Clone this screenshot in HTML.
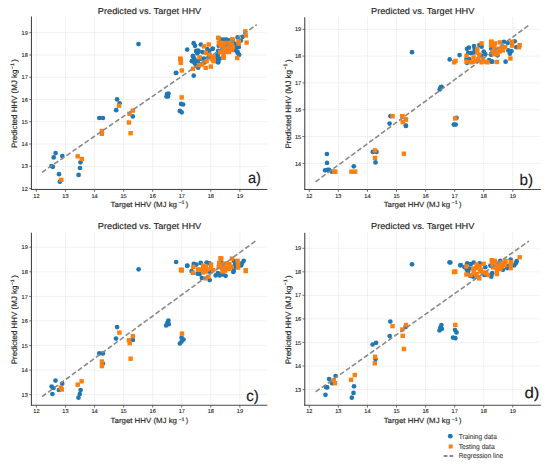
<!DOCTYPE html>
<html><head><meta charset="utf-8"><style>
html,body{margin:0;padding:0;background:#fff;}
svg{display:block;}
text{font-family:"Liberation Sans",sans-serif;fill:#262626;stroke:#262626;stroke-width:0.15px;text-rendering:geometricPrecision;}
.tl{stroke-width:0.12px;}
circle{fill:#1f77b4;}
rect{fill:#ff7f0e;}
.gr{stroke:#c8c8c8;stroke-width:0.6;stroke-dasharray:0.8,1.2;}
.sp{stroke:#484848;stroke-width:1.1;}
.tk{stroke:#484848;stroke-width:0.8;}
.tl{font-size:5.6px;}
.al{font-size:7.4px;}
.sup{font-size:5px;}
.yl{font-size:7.9px;}
.ti{font-size:8.7px;}
.pl{font-size:15.5px;fill:#1a1a1a;}
.rg{stroke:#8a8a8a;stroke-width:1.6;stroke-dasharray:5.0,2.4;}
.lg{font-size:7.2px;fill:#4a4a4a;stroke:#4a4a4a;}
</style></head><body>
<svg width="550" height="465" viewBox="0 0 550 465">
<line x1="36.40" y1="16.5" x2="36.40" y2="189.5" class="gr"/>
<line x1="65.47" y1="16.5" x2="65.47" y2="189.5" class="gr"/>
<line x1="94.54" y1="16.5" x2="94.54" y2="189.5" class="gr"/>
<line x1="123.61" y1="16.5" x2="123.61" y2="189.5" class="gr"/>
<line x1="152.68" y1="16.5" x2="152.68" y2="189.5" class="gr"/>
<line x1="181.75" y1="16.5" x2="181.75" y2="189.5" class="gr"/>
<line x1="210.82" y1="16.5" x2="210.82" y2="189.5" class="gr"/>
<line x1="239.89" y1="16.5" x2="239.89" y2="189.5" class="gr"/>
<line x1="31.45" y1="188.50" x2="267.4" y2="188.50" class="gr"/>
<line x1="31.45" y1="166.30" x2="267.4" y2="166.30" class="gr"/>
<line x1="31.45" y1="144.00" x2="267.4" y2="144.00" class="gr"/>
<line x1="31.45" y1="121.70" x2="267.4" y2="121.70" class="gr"/>
<line x1="31.45" y1="99.50" x2="267.4" y2="99.50" class="gr"/>
<line x1="31.45" y1="77.20" x2="267.4" y2="77.20" class="gr"/>
<line x1="31.45" y1="55.00" x2="267.4" y2="55.00" class="gr"/>
<line x1="31.45" y1="32.70" x2="267.4" y2="32.70" class="gr"/>
<circle cx="55.6" cy="153.1" r="2.35"/>
<circle cx="53.7" cy="157.4" r="2.35"/>
<circle cx="62.3" cy="156.1" r="2.35"/>
<circle cx="51.5" cy="166.0" r="2.35"/>
<circle cx="52.8" cy="166.8" r="2.35"/>
<circle cx="59.0" cy="174.2" r="2.35"/>
<circle cx="59.9" cy="181.7" r="2.35"/>
<circle cx="80.5" cy="162.3" r="2.35"/>
<circle cx="80.0" cy="168.0" r="2.35"/>
<circle cx="78.6" cy="174.9" r="2.35"/>
<circle cx="117.1" cy="99.4" r="2.35"/>
<circle cx="119.6" cy="103.3" r="2.35"/>
<circle cx="116.2" cy="110.2" r="2.35"/>
<circle cx="99.3" cy="118.0" r="2.35"/>
<circle cx="102.9" cy="118.0" r="2.35"/>
<circle cx="132.8" cy="116.4" r="2.35"/>
<circle cx="138.5" cy="44.1" r="2.35"/>
<circle cx="175.9" cy="73.0" r="2.35"/>
<circle cx="167.0" cy="94.0" r="2.35"/>
<circle cx="168.5" cy="93.5" r="2.35"/>
<circle cx="166.5" cy="96.5" r="2.35"/>
<circle cx="168.0" cy="96.5" r="2.35"/>
<circle cx="181.1" cy="103.9" r="2.35"/>
<circle cx="183.1" cy="104.5" r="2.35"/>
<circle cx="179.8" cy="110.9" r="2.35"/>
<circle cx="181.7" cy="112.3" r="2.35"/>
<circle cx="187.2" cy="49.6" r="2.35"/>
<circle cx="193.7" cy="43.2" r="2.35"/>
<circle cx="195.0" cy="45.8" r="2.35"/>
<circle cx="200.8" cy="44.5" r="2.35"/>
<circle cx="196.3" cy="50.9" r="2.35"/>
<circle cx="198.8" cy="51.6" r="2.35"/>
<circle cx="193.0" cy="56.7" r="2.35"/>
<circle cx="194.3" cy="58.7" r="2.35"/>
<circle cx="191.8" cy="61.2" r="2.35"/>
<circle cx="194.3" cy="62.5" r="2.35"/>
<circle cx="197.6" cy="61.2" r="2.35"/>
<circle cx="200.8" cy="58.7" r="2.35"/>
<circle cx="202.7" cy="52.2" r="2.35"/>
<circle cx="207.2" cy="49.0" r="2.35"/>
<circle cx="209.1" cy="50.9" r="2.35"/>
<circle cx="212.4" cy="49.0" r="2.35"/>
<circle cx="204.0" cy="58.7" r="2.35"/>
<circle cx="204.6" cy="62.5" r="2.35"/>
<circle cx="216.2" cy="60.0" r="2.35"/>
<circle cx="218.2" cy="62.5" r="2.35"/>
<circle cx="217.5" cy="54.8" r="2.35"/>
<circle cx="220.7" cy="39.3" r="2.35"/>
<circle cx="218.8" cy="45.8" r="2.35"/>
<circle cx="198.2" cy="67.7" r="2.35"/>
<circle cx="193.7" cy="75.7" r="2.35"/>
<circle cx="176.3" cy="72.8" r="2.35"/>
<circle cx="208.5" cy="57.4" r="2.35"/>
<circle cx="196.8" cy="66.0" r="2.35"/>
<circle cx="195.3" cy="64.0" r="2.35"/>
<circle cx="200.2" cy="64.0" r="2.35"/>
<circle cx="196.3" cy="51.0" r="2.35"/>
<circle cx="198.2" cy="50.5" r="2.35"/>
<circle cx="197.3" cy="53.4" r="2.35"/>
<circle cx="192.9" cy="55.8" r="2.35"/>
<circle cx="237.6" cy="37.4" r="2.35"/>
<circle cx="242.7" cy="36.8" r="2.35"/>
<circle cx="240.8" cy="40.6" r="2.35"/>
<circle cx="236.3" cy="45.8" r="2.35"/>
<circle cx="238.8" cy="47.1" r="2.35"/>
<circle cx="234.3" cy="47.7" r="2.35"/>
<circle cx="235.6" cy="50.3" r="2.35"/>
<circle cx="237.6" cy="52.2" r="2.35"/>
<circle cx="238.8" cy="54.5" r="2.35"/>
<circle cx="217.6" cy="55.4" r="2.35"/>
<circle cx="219.5" cy="58.7" r="2.35"/>
<circle cx="216.3" cy="61.2" r="2.35"/>
<circle cx="226.6" cy="39.6" r="2.35"/>
<circle cx="229.2" cy="40.4" r="2.35"/>
<circle cx="224.0" cy="39.6" r="2.35"/>
<circle cx="233.0" cy="41.9" r="2.35"/>
<circle cx="235.3" cy="44.0" r="2.35"/>
<circle cx="236.8" cy="47.0" r="2.35"/>
<circle cx="235.3" cy="49.4" r="2.35"/>
<circle cx="237.6" cy="52.5" r="2.35"/>
<circle cx="239.1" cy="54.8" r="2.35"/>
<circle cx="212.8" cy="48.6" r="2.35"/>
<circle cx="216.5" cy="57.0" r="2.35"/>
<circle cx="218.5" cy="60.5" r="2.35"/>
<circle cx="218.2" cy="50.9" r="2.35"/>
<rect x="59.1" y="177.6" width="4.4" height="4.4"/>
<rect x="75.5" y="154.1" width="4.4" height="4.4"/>
<rect x="79.6" y="156.8" width="4.4" height="4.4"/>
<rect x="116.8" y="103.5" width="4.4" height="4.4"/>
<rect x="99.7" y="128.8" width="4.4" height="4.4"/>
<rect x="99.7" y="131.6" width="4.4" height="4.4"/>
<rect x="130.7" y="108.4" width="4.4" height="4.4"/>
<rect x="127.4" y="111.6" width="4.4" height="4.4"/>
<rect x="126.7" y="120.3" width="4.4" height="4.4"/>
<rect x="128.4" y="131.0" width="4.4" height="4.4"/>
<rect x="178.5" y="56.8" width="4.4" height="4.4"/>
<rect x="178.7" y="59.6" width="4.4" height="4.4"/>
<rect x="179.5" y="95.2" width="4.4" height="4.4"/>
<rect x="178.0" y="56.5" width="4.4" height="4.4"/>
<rect x="178.6" y="60.6" width="4.4" height="4.4"/>
<rect x="179.6" y="68.3" width="4.4" height="4.4"/>
<rect x="201.8" y="44.2" width="4.4" height="4.4"/>
<rect x="206.6" y="42.3" width="4.4" height="4.4"/>
<rect x="197.3" y="55.2" width="4.4" height="4.4"/>
<rect x="203.7" y="50.7" width="4.4" height="4.4"/>
<rect x="207.6" y="52.6" width="4.4" height="4.4"/>
<rect x="204.4" y="59.0" width="4.4" height="4.4"/>
<rect x="209.5" y="56.5" width="4.4" height="4.4"/>
<rect x="211.5" y="59.0" width="4.4" height="4.4"/>
<rect x="199.9" y="62.3" width="4.4" height="4.4"/>
<rect x="196.6" y="62.9" width="4.4" height="4.4"/>
<rect x="190.8" y="66.5" width="4.4" height="4.4"/>
<rect x="203.5" y="65.7" width="4.4" height="4.4"/>
<rect x="208.6" y="64.4" width="4.4" height="4.4"/>
<rect x="216.1" y="35.7" width="4.4" height="4.4"/>
<rect x="217.3" y="40.4" width="4.4" height="4.4"/>
<rect x="219.2" y="43.6" width="4.4" height="4.4"/>
<rect x="221.1" y="55.2" width="4.4" height="4.4"/>
<rect x="221.1" y="48.7" width="4.4" height="4.4"/>
<rect x="243.1" y="29.1" width="4.4" height="4.4"/>
<rect x="243.7" y="33.3" width="4.4" height="4.4"/>
<rect x="244.4" y="40.4" width="4.4" height="4.4"/>
<rect x="236.6" y="39.7" width="4.4" height="4.4"/>
<rect x="230.2" y="37.1" width="4.4" height="4.4"/>
<rect x="216.0" y="35.8" width="4.4" height="4.4"/>
<rect x="216.7" y="41.0" width="4.4" height="4.4"/>
<rect x="218.6" y="43.6" width="4.4" height="4.4"/>
<rect x="220.5" y="41.6" width="4.4" height="4.4"/>
<rect x="223.1" y="44.2" width="4.4" height="4.4"/>
<rect x="225.7" y="43.6" width="4.4" height="4.4"/>
<rect x="228.3" y="44.9" width="4.4" height="4.4"/>
<rect x="219.9" y="46.8" width="4.4" height="4.4"/>
<rect x="222.5" y="48.1" width="4.4" height="4.4"/>
<rect x="225.7" y="46.8" width="4.4" height="4.4"/>
<rect x="218.0" y="50.0" width="4.4" height="4.4"/>
<rect x="221.2" y="50.7" width="4.4" height="4.4"/>
<rect x="221.6" y="55.2" width="4.4" height="4.4"/>
<rect x="235.0" y="55.8" width="4.4" height="4.4"/>
<rect x="229.6" y="42.3" width="4.4" height="4.4"/>
<rect x="221.8" y="40.8" width="4.4" height="4.4"/>
<rect x="224.8" y="40.8" width="4.4" height="4.4"/>
<rect x="227.8" y="40.8" width="4.4" height="4.4"/>
<rect x="223.8" y="49.8" width="4.4" height="4.4"/>
<rect x="226.8" y="49.8" width="4.4" height="4.4"/>
<rect x="229.8" y="47.8" width="4.4" height="4.4"/>
<rect x="226.8" y="44.8" width="4.4" height="4.4"/>
<rect x="230.8" y="44.8" width="4.4" height="4.4"/>
<rect x="230.1" y="37.5" width="4.4" height="4.4"/>
<rect x="236.5" y="39.4" width="4.4" height="4.4"/>
<rect x="236.5" y="41.4" width="4.4" height="4.4"/>
<rect x="221.4" y="55.3" width="4.4" height="4.4"/>
<rect x="211.3" y="54.8" width="4.4" height="4.4"/>
<rect x="211.3" y="58.3" width="4.4" height="4.4"/>
<line x1="42" y1="172.4" x2="256.7" y2="24.7" class="rg"/>
<line x1="31.45" y1="16.5" x2="31.45" y2="190.05" class="sp"/>
<line x1="30.9" y1="189.5" x2="267.4" y2="189.5" class="sp"/>
<line x1="36.40" y1="189.5" x2="36.40" y2="191.8" class="tk"/>
<text x="36.40" y="197.6" class="tl" text-anchor="middle">12</text>
<line x1="65.47" y1="189.5" x2="65.47" y2="191.8" class="tk"/>
<text x="65.47" y="197.6" class="tl" text-anchor="middle">13</text>
<line x1="94.54" y1="189.5" x2="94.54" y2="191.8" class="tk"/>
<text x="94.54" y="197.6" class="tl" text-anchor="middle">14</text>
<line x1="123.61" y1="189.5" x2="123.61" y2="191.8" class="tk"/>
<text x="123.61" y="197.6" class="tl" text-anchor="middle">15</text>
<line x1="152.68" y1="189.5" x2="152.68" y2="191.8" class="tk"/>
<text x="152.68" y="197.6" class="tl" text-anchor="middle">16</text>
<line x1="181.75" y1="189.5" x2="181.75" y2="191.8" class="tk"/>
<text x="181.75" y="197.6" class="tl" text-anchor="middle">17</text>
<line x1="210.82" y1="189.5" x2="210.82" y2="191.8" class="tk"/>
<text x="210.82" y="197.6" class="tl" text-anchor="middle">18</text>
<line x1="239.89" y1="189.5" x2="239.89" y2="191.8" class="tk"/>
<text x="239.89" y="197.6" class="tl" text-anchor="middle">19</text>
<line x1="29.25" y1="188.50" x2="31.45" y2="188.50" class="tk"/>
<text x="27.85" y="190.6" class="tl" text-anchor="end">12</text>
<line x1="29.25" y1="166.30" x2="31.45" y2="166.30" class="tk"/>
<text x="27.85" y="168.4" class="tl" text-anchor="end">13</text>
<line x1="29.25" y1="144.00" x2="31.45" y2="144.00" class="tk"/>
<text x="27.85" y="146.1" class="tl" text-anchor="end">14</text>
<line x1="29.25" y1="121.70" x2="31.45" y2="121.70" class="tk"/>
<text x="27.85" y="123.8" class="tl" text-anchor="end">15</text>
<line x1="29.25" y1="99.50" x2="31.45" y2="99.50" class="tk"/>
<text x="27.85" y="101.6" class="tl" text-anchor="end">16</text>
<line x1="29.25" y1="77.20" x2="31.45" y2="77.20" class="tk"/>
<text x="27.85" y="79.3" class="tl" text-anchor="end">17</text>
<line x1="29.25" y1="55.00" x2="31.45" y2="55.00" class="tk"/>
<text x="27.85" y="57.1" class="tl" text-anchor="end">18</text>
<line x1="29.25" y1="32.70" x2="31.45" y2="32.70" class="tk"/>
<text x="27.85" y="34.8" class="tl" text-anchor="end">19</text>
<text x="97.8" y="13.6" class="ti" textLength="103.4" lengthAdjust="spacingAndGlyphs">Predicted vs. Target HHV</text>
<text x="110.6" y="207.0" class="al" textLength="66.4" lengthAdjust="spacingAndGlyphs">Target HHV (MJ kg</text>
<text x="178.5" y="204.4" class="sup" textLength="6.0" lengthAdjust="spacingAndGlyphs">−1</text>
<text x="185.8" y="207.0" class="al">)</text>
<g transform="translate(17.2,148.1) rotate(-90)"><text x="0" y="0" class="al yl" textLength="78.5" lengthAdjust="spacingAndGlyphs">Predicted HHV (MJ kg</text><text x="78.9" y="-3.4" class="sup" textLength="6.1" lengthAdjust="spacingAndGlyphs">−1</text><text x="86.4" y="0" class="al yl">)</text></g>
<text x="247.9" y="182.5" class="pl" textLength="13.0" lengthAdjust="spacingAndGlyphs">a)</text>
<line x1="309.30" y1="17.3" x2="309.30" y2="189.5" class="gr"/>
<line x1="338.37" y1="17.3" x2="338.37" y2="189.5" class="gr"/>
<line x1="367.44" y1="17.3" x2="367.44" y2="189.5" class="gr"/>
<line x1="396.51" y1="17.3" x2="396.51" y2="189.5" class="gr"/>
<line x1="425.58" y1="17.3" x2="425.58" y2="189.5" class="gr"/>
<line x1="454.65" y1="17.3" x2="454.65" y2="189.5" class="gr"/>
<line x1="483.72" y1="17.3" x2="483.72" y2="189.5" class="gr"/>
<line x1="512.79" y1="17.3" x2="512.79" y2="189.5" class="gr"/>
<line x1="304.75" y1="163.40" x2="540.8" y2="163.40" class="gr"/>
<line x1="304.75" y1="136.50" x2="540.8" y2="136.50" class="gr"/>
<line x1="304.75" y1="109.80" x2="540.8" y2="109.80" class="gr"/>
<line x1="304.75" y1="82.90" x2="540.8" y2="82.90" class="gr"/>
<line x1="304.75" y1="56.10" x2="540.8" y2="56.10" class="gr"/>
<line x1="304.75" y1="29.30" x2="540.8" y2="29.30" class="gr"/>
<circle cx="326.9" cy="154.0" r="2.35"/>
<circle cx="327.0" cy="162.9" r="2.35"/>
<circle cx="325.1" cy="170.3" r="2.35"/>
<circle cx="327.7" cy="169.9" r="2.35"/>
<circle cx="329.1" cy="169.9" r="2.35"/>
<circle cx="332.0" cy="171.7" r="2.35"/>
<circle cx="353.8" cy="166.3" r="2.35"/>
<circle cx="390.5" cy="116.2" r="2.35"/>
<circle cx="389.6" cy="123.6" r="2.35"/>
<circle cx="405.9" cy="125.9" r="2.35"/>
<circle cx="372.8" cy="151.9" r="2.35"/>
<circle cx="376.5" cy="151.9" r="2.35"/>
<circle cx="375.5" cy="162.4" r="2.35"/>
<circle cx="412.0" cy="52.2" r="2.35"/>
<circle cx="449.7" cy="59.4" r="2.35"/>
<circle cx="459.6" cy="55.1" r="2.35"/>
<circle cx="440.6" cy="87.4" r="2.35"/>
<circle cx="439.7" cy="89.4" r="2.35"/>
<circle cx="441.6" cy="86.8" r="2.35"/>
<circle cx="456.5" cy="117.8" r="2.35"/>
<circle cx="453.8" cy="124.6" r="2.35"/>
<circle cx="455.7" cy="124.6" r="2.35"/>
<circle cx="405.8" cy="125.5" r="2.35"/>
<circle cx="467.0" cy="48.8" r="2.35"/>
<circle cx="468.9" cy="47.7" r="2.35"/>
<circle cx="474.0" cy="46.1" r="2.35"/>
<circle cx="474.6" cy="48.8" r="2.35"/>
<circle cx="479.4" cy="45.1" r="2.35"/>
<circle cx="481.6" cy="46.7" r="2.35"/>
<circle cx="483.7" cy="51.5" r="2.35"/>
<circle cx="485.3" cy="54.2" r="2.35"/>
<circle cx="468.1" cy="53.1" r="2.35"/>
<circle cx="470.8" cy="53.1" r="2.35"/>
<circle cx="473.5" cy="52.6" r="2.35"/>
<circle cx="466.5" cy="59.0" r="2.35"/>
<circle cx="469.2" cy="59.0" r="2.35"/>
<circle cx="467.0" cy="62.8" r="2.35"/>
<circle cx="481.6" cy="55.8" r="2.35"/>
<circle cx="489.1" cy="60.1" r="2.35"/>
<circle cx="492.3" cy="61.7" r="2.35"/>
<circle cx="491.2" cy="48.8" r="2.35"/>
<circle cx="491.2" cy="54.2" r="2.35"/>
<circle cx="504.0" cy="41.8" r="2.35"/>
<circle cx="507.7" cy="42.9" r="2.35"/>
<circle cx="514.7" cy="41.3" r="2.35"/>
<circle cx="516.3" cy="47.2" r="2.35"/>
<circle cx="508.3" cy="50.4" r="2.35"/>
<circle cx="511.5" cy="51.0" r="2.35"/>
<circle cx="509.9" cy="53.7" r="2.35"/>
<circle cx="491.6" cy="61.7" r="2.35"/>
<circle cx="505.6" cy="61.7" r="2.35"/>
<circle cx="491.1" cy="54.7" r="2.35"/>
<circle cx="497.5" cy="55.3" r="2.35"/>
<rect x="332.0" y="169.5" width="4.4" height="4.4"/>
<rect x="333.1" y="169.5" width="4.4" height="4.4"/>
<rect x="349.2" y="169.5" width="4.4" height="4.4"/>
<rect x="353.0" y="169.5" width="4.4" height="4.4"/>
<rect x="390.4" y="114.0" width="4.4" height="4.4"/>
<rect x="400.2" y="114.0" width="4.4" height="4.4"/>
<rect x="403.8" y="117.3" width="4.4" height="4.4"/>
<rect x="400.7" y="119.9" width="4.4" height="4.4"/>
<rect x="372.8" y="148.2" width="4.4" height="4.4"/>
<rect x="372.8" y="155.7" width="4.4" height="4.4"/>
<rect x="401.7" y="151.5" width="4.4" height="4.4"/>
<rect x="452.0" y="60.1" width="4.4" height="4.4"/>
<rect x="453.3" y="58.7" width="4.4" height="4.4"/>
<rect x="453.0" y="116.2" width="4.4" height="4.4"/>
<rect x="400.1" y="113.9" width="4.4" height="4.4"/>
<rect x="403.6" y="117.2" width="4.4" height="4.4"/>
<rect x="400.7" y="119.7" width="4.4" height="4.4"/>
<rect x="464.3" y="53.6" width="4.4" height="4.4"/>
<rect x="464.3" y="59.5" width="4.4" height="4.4"/>
<rect x="468.6" y="60.1" width="4.4" height="4.4"/>
<rect x="471.3" y="55.2" width="4.4" height="4.4"/>
<rect x="470.8" y="59.5" width="4.4" height="4.4"/>
<rect x="474.0" y="59.0" width="4.4" height="4.4"/>
<rect x="475.1" y="46.6" width="4.4" height="4.4"/>
<rect x="475.1" y="50.4" width="4.4" height="4.4"/>
<rect x="477.2" y="52.5" width="4.4" height="4.4"/>
<rect x="476.1" y="56.8" width="4.4" height="4.4"/>
<rect x="479.4" y="41.2" width="4.4" height="4.4"/>
<rect x="480.4" y="56.8" width="4.4" height="4.4"/>
<rect x="479.4" y="60.1" width="4.4" height="4.4"/>
<rect x="483.7" y="59.5" width="4.4" height="4.4"/>
<rect x="485.3" y="60.1" width="4.4" height="4.4"/>
<rect x="489.0" y="39.6" width="4.4" height="4.4"/>
<rect x="489.0" y="42.9" width="4.4" height="4.4"/>
<rect x="490.1" y="49.3" width="4.4" height="4.4"/>
<rect x="491.7" y="50.9" width="4.4" height="4.4"/>
<rect x="489.4" y="39.6" width="4.4" height="4.4"/>
<rect x="488.9" y="42.9" width="4.4" height="4.4"/>
<rect x="492.6" y="41.2" width="4.4" height="4.4"/>
<rect x="492.1" y="45.0" width="4.4" height="4.4"/>
<rect x="497.5" y="40.2" width="4.4" height="4.4"/>
<rect x="496.4" y="46.6" width="4.4" height="4.4"/>
<rect x="499.6" y="45.0" width="4.4" height="4.4"/>
<rect x="502.9" y="45.0" width="4.4" height="4.4"/>
<rect x="493.7" y="49.3" width="4.4" height="4.4"/>
<rect x="497.5" y="49.3" width="4.4" height="4.4"/>
<rect x="491.6" y="52.0" width="4.4" height="4.4"/>
<rect x="494.8" y="52.0" width="4.4" height="4.4"/>
<rect x="500.7" y="48.2" width="4.4" height="4.4"/>
<rect x="509.8" y="39.6" width="4.4" height="4.4"/>
<rect x="509.8" y="43.4" width="4.4" height="4.4"/>
<rect x="517.4" y="42.9" width="4.4" height="4.4"/>
<rect x="516.8" y="45.0" width="4.4" height="4.4"/>
<rect x="508.2" y="56.3" width="4.4" height="4.4"/>
<rect x="494.8" y="59.8" width="4.4" height="4.4"/>
<line x1="315.5" y1="181.8" x2="529.6" y2="24.7" class="rg"/>
<line x1="304.75" y1="17.3" x2="304.75" y2="190.05" class="sp"/>
<line x1="304.2" y1="189.5" x2="540.8" y2="189.5" class="sp"/>
<line x1="309.30" y1="189.5" x2="309.30" y2="191.8" class="tk"/>
<text x="309.30" y="197.6" class="tl" text-anchor="middle">12</text>
<line x1="338.37" y1="189.5" x2="338.37" y2="191.8" class="tk"/>
<text x="338.37" y="197.6" class="tl" text-anchor="middle">13</text>
<line x1="367.44" y1="189.5" x2="367.44" y2="191.8" class="tk"/>
<text x="367.44" y="197.6" class="tl" text-anchor="middle">14</text>
<line x1="396.51" y1="189.5" x2="396.51" y2="191.8" class="tk"/>
<text x="396.51" y="197.6" class="tl" text-anchor="middle">15</text>
<line x1="425.58" y1="189.5" x2="425.58" y2="191.8" class="tk"/>
<text x="425.58" y="197.6" class="tl" text-anchor="middle">16</text>
<line x1="454.65" y1="189.5" x2="454.65" y2="191.8" class="tk"/>
<text x="454.65" y="197.6" class="tl" text-anchor="middle">17</text>
<line x1="483.72" y1="189.5" x2="483.72" y2="191.8" class="tk"/>
<text x="483.72" y="197.6" class="tl" text-anchor="middle">18</text>
<line x1="512.79" y1="189.5" x2="512.79" y2="191.8" class="tk"/>
<text x="512.79" y="197.6" class="tl" text-anchor="middle">19</text>
<line x1="302.55" y1="163.40" x2="304.75" y2="163.40" class="tk"/>
<text x="301.15" y="165.5" class="tl" text-anchor="end">14</text>
<line x1="302.55" y1="136.50" x2="304.75" y2="136.50" class="tk"/>
<text x="301.15" y="138.6" class="tl" text-anchor="end">15</text>
<line x1="302.55" y1="109.80" x2="304.75" y2="109.80" class="tk"/>
<text x="301.15" y="111.9" class="tl" text-anchor="end">16</text>
<line x1="302.55" y1="82.90" x2="304.75" y2="82.90" class="tk"/>
<text x="301.15" y="85.0" class="tl" text-anchor="end">17</text>
<line x1="302.55" y1="56.10" x2="304.75" y2="56.10" class="tk"/>
<text x="301.15" y="58.2" class="tl" text-anchor="end">18</text>
<line x1="302.55" y1="29.30" x2="304.75" y2="29.30" class="tk"/>
<text x="301.15" y="31.4" class="tl" text-anchor="end">19</text>
<text x="371.0" y="13.6" class="ti" textLength="103.4" lengthAdjust="spacingAndGlyphs">Predicted vs. Target HHV</text>
<text x="383.7" y="207.0" class="al" textLength="66.4" lengthAdjust="spacingAndGlyphs">Target HHV (MJ kg</text>
<text x="451.6" y="204.4" class="sup" textLength="6.0" lengthAdjust="spacingAndGlyphs">−1</text>
<text x="458.9" y="207.0" class="al">)</text>
<g transform="translate(290.5,148.5) rotate(-90)"><text x="0" y="0" class="al yl" textLength="78.5" lengthAdjust="spacingAndGlyphs">Predicted HHV (MJ kg</text><text x="78.9" y="-3.4" class="sup" textLength="6.1" lengthAdjust="spacingAndGlyphs">−1</text><text x="86.4" y="0" class="al yl">)</text></g>
<text x="519.5" y="184.5" class="pl" textLength="13.6" lengthAdjust="spacingAndGlyphs">b)</text>
<line x1="36.40" y1="232.7" x2="36.40" y2="405.3" class="gr"/>
<line x1="65.47" y1="232.7" x2="65.47" y2="405.3" class="gr"/>
<line x1="94.54" y1="232.7" x2="94.54" y2="405.3" class="gr"/>
<line x1="123.61" y1="232.7" x2="123.61" y2="405.3" class="gr"/>
<line x1="152.68" y1="232.7" x2="152.68" y2="405.3" class="gr"/>
<line x1="181.75" y1="232.7" x2="181.75" y2="405.3" class="gr"/>
<line x1="210.82" y1="232.7" x2="210.82" y2="405.3" class="gr"/>
<line x1="239.89" y1="232.7" x2="239.89" y2="405.3" class="gr"/>
<line x1="31.45" y1="394.60" x2="267.4" y2="394.60" class="gr"/>
<line x1="31.45" y1="370.10" x2="267.4" y2="370.10" class="gr"/>
<line x1="31.45" y1="345.50" x2="267.4" y2="345.50" class="gr"/>
<line x1="31.45" y1="320.90" x2="267.4" y2="320.90" class="gr"/>
<line x1="31.45" y1="296.40" x2="267.4" y2="296.40" class="gr"/>
<line x1="31.45" y1="271.80" x2="267.4" y2="271.80" class="gr"/>
<line x1="31.45" y1="247.20" x2="267.4" y2="247.20" class="gr"/>
<circle cx="55.5" cy="380.6" r="2.35"/>
<circle cx="62.2" cy="383.7" r="2.35"/>
<circle cx="51.6" cy="386.6" r="2.35"/>
<circle cx="53.5" cy="388.0" r="2.35"/>
<circle cx="58.9" cy="390.0" r="2.35"/>
<circle cx="52.4" cy="394.0" r="2.35"/>
<circle cx="80.6" cy="390.0" r="2.35"/>
<circle cx="79.8" cy="394.0" r="2.35"/>
<circle cx="78.5" cy="397.7" r="2.35"/>
<circle cx="117.1" cy="327.1" r="2.35"/>
<circle cx="116.0" cy="338.6" r="2.35"/>
<circle cx="99.3" cy="353.4" r="2.35"/>
<circle cx="102.9" cy="353.4" r="2.35"/>
<circle cx="132.9" cy="339.9" r="2.35"/>
<circle cx="102.9" cy="363.5" r="2.35"/>
<circle cx="138.6" cy="269.3" r="2.35"/>
<circle cx="176.1" cy="262.0" r="2.35"/>
<circle cx="187.2" cy="265.8" r="2.35"/>
<circle cx="168.4" cy="320.6" r="2.35"/>
<circle cx="167.4" cy="322.9" r="2.35"/>
<circle cx="166.1" cy="325.5" r="2.35"/>
<circle cx="168.7" cy="324.2" r="2.35"/>
<circle cx="181.6" cy="337.7" r="2.35"/>
<circle cx="183.5" cy="339.6" r="2.35"/>
<circle cx="181.6" cy="341.6" r="2.35"/>
<circle cx="179.9" cy="343.5" r="2.35"/>
<circle cx="187.3" cy="265.7" r="2.35"/>
<circle cx="193.8" cy="263.8" r="2.35"/>
<circle cx="196.4" cy="264.6" r="2.35"/>
<circle cx="200.7" cy="262.9" r="2.35"/>
<circle cx="206.7" cy="262.5" r="2.35"/>
<circle cx="209.3" cy="263.3" r="2.35"/>
<circle cx="191.6" cy="271.1" r="2.35"/>
<circle cx="197.6" cy="273.7" r="2.35"/>
<circle cx="199.8" cy="274.1" r="2.35"/>
<circle cx="201.9" cy="278.0" r="2.35"/>
<circle cx="209.7" cy="280.1" r="2.35"/>
<circle cx="210.1" cy="271.9" r="2.35"/>
<circle cx="215.7" cy="275.4" r="2.35"/>
<circle cx="217.9" cy="273.2" r="2.35"/>
<circle cx="219.6" cy="275.4" r="2.35"/>
<circle cx="221.3" cy="262.9" r="2.35"/>
<circle cx="243.7" cy="260.8" r="2.35"/>
<circle cx="241.9" cy="263.3" r="2.35"/>
<circle cx="241.1" cy="265.5" r="2.35"/>
<circle cx="235.1" cy="264.2" r="2.35"/>
<circle cx="235.5" cy="266.8" r="2.35"/>
<circle cx="233.8" cy="270.7" r="2.35"/>
<circle cx="233.3" cy="271.9" r="2.35"/>
<circle cx="225.6" cy="275.8" r="2.35"/>
<circle cx="223.0" cy="274.5" r="2.35"/>
<circle cx="220.9" cy="274.1" r="2.35"/>
<circle cx="220.9" cy="262.0" r="2.35"/>
<circle cx="234.2" cy="261.2" r="2.35"/>
<rect x="58.6" y="385.4" width="4.4" height="4.4"/>
<rect x="59.6" y="387.3" width="4.4" height="4.4"/>
<rect x="75.5" y="382.5" width="4.4" height="4.4"/>
<rect x="79.4" y="379.1" width="4.4" height="4.4"/>
<rect x="117.2" y="330.4" width="4.4" height="4.4"/>
<rect x="130.7" y="334.0" width="4.4" height="4.4"/>
<rect x="126.7" y="338.1" width="4.4" height="4.4"/>
<rect x="127.5" y="341.0" width="4.4" height="4.4"/>
<rect x="128.4" y="356.5" width="4.4" height="4.4"/>
<rect x="99.7" y="359.3" width="4.4" height="4.4"/>
<rect x="99.7" y="363.9" width="4.4" height="4.4"/>
<rect x="178.7" y="267.6" width="4.4" height="4.4"/>
<rect x="179.4" y="268.4" width="4.4" height="4.4"/>
<rect x="179.8" y="331.4" width="4.4" height="4.4"/>
<rect x="179.5" y="267.6" width="4.4" height="4.4"/>
<rect x="191.1" y="264.6" width="4.4" height="4.4"/>
<rect x="190.7" y="270.6" width="4.4" height="4.4"/>
<rect x="195.9" y="267.2" width="4.4" height="4.4"/>
<rect x="198.5" y="267.6" width="4.4" height="4.4"/>
<rect x="201.0" y="263.3" width="4.4" height="4.4"/>
<rect x="201.0" y="266.3" width="4.4" height="4.4"/>
<rect x="203.6" y="264.6" width="4.4" height="4.4"/>
<rect x="205.3" y="267.2" width="4.4" height="4.4"/>
<rect x="201.0" y="270.2" width="4.4" height="4.4"/>
<rect x="203.6" y="269.3" width="4.4" height="4.4"/>
<rect x="208.8" y="262.4" width="4.4" height="4.4"/>
<rect x="208.8" y="265.9" width="4.4" height="4.4"/>
<rect x="210.9" y="268.0" width="4.4" height="4.4"/>
<rect x="203.6" y="276.2" width="4.4" height="4.4"/>
<rect x="206.2" y="274.5" width="4.4" height="4.4"/>
<rect x="218.2" y="256.0" width="4.4" height="4.4"/>
<rect x="217.0" y="260.7" width="4.4" height="4.4"/>
<rect x="216.5" y="265.0" width="4.4" height="4.4"/>
<rect x="220.0" y="265.9" width="4.4" height="4.4"/>
<rect x="220.8" y="268.5" width="4.4" height="4.4"/>
<rect x="219.1" y="256.4" width="4.4" height="4.4"/>
<rect x="229.8" y="256.4" width="4.4" height="4.4"/>
<rect x="219.5" y="262.9" width="4.4" height="4.4"/>
<rect x="222.1" y="261.6" width="4.4" height="4.4"/>
<rect x="224.7" y="261.1" width="4.4" height="4.4"/>
<rect x="227.3" y="262.0" width="4.4" height="4.4"/>
<rect x="229.0" y="264.6" width="4.4" height="4.4"/>
<rect x="221.2" y="265.4" width="4.4" height="4.4"/>
<rect x="224.7" y="265.9" width="4.4" height="4.4"/>
<rect x="227.3" y="266.7" width="4.4" height="4.4"/>
<rect x="220.4" y="269.3" width="4.4" height="4.4"/>
<rect x="223.0" y="268.5" width="4.4" height="4.4"/>
<rect x="235.4" y="258.6" width="4.4" height="4.4"/>
<rect x="235.9" y="261.6" width="4.4" height="4.4"/>
<rect x="235.9" y="265.4" width="4.4" height="4.4"/>
<rect x="243.6" y="268.0" width="4.4" height="4.4"/>
<rect x="243.6" y="268.9" width="4.4" height="4.4"/>
<line x1="42" y1="396.7" x2="256.4" y2="240.4" class="rg"/>
<line x1="31.45" y1="232.7" x2="31.45" y2="405.85" class="sp"/>
<line x1="30.9" y1="405.3" x2="267.4" y2="405.3" class="sp"/>
<line x1="36.40" y1="405.3" x2="36.40" y2="407.6" class="tk"/>
<text x="36.40" y="413.4" class="tl" text-anchor="middle">12</text>
<line x1="65.47" y1="405.3" x2="65.47" y2="407.6" class="tk"/>
<text x="65.47" y="413.4" class="tl" text-anchor="middle">13</text>
<line x1="94.54" y1="405.3" x2="94.54" y2="407.6" class="tk"/>
<text x="94.54" y="413.4" class="tl" text-anchor="middle">14</text>
<line x1="123.61" y1="405.3" x2="123.61" y2="407.6" class="tk"/>
<text x="123.61" y="413.4" class="tl" text-anchor="middle">15</text>
<line x1="152.68" y1="405.3" x2="152.68" y2="407.6" class="tk"/>
<text x="152.68" y="413.4" class="tl" text-anchor="middle">16</text>
<line x1="181.75" y1="405.3" x2="181.75" y2="407.6" class="tk"/>
<text x="181.75" y="413.4" class="tl" text-anchor="middle">17</text>
<line x1="210.82" y1="405.3" x2="210.82" y2="407.6" class="tk"/>
<text x="210.82" y="413.4" class="tl" text-anchor="middle">18</text>
<line x1="239.89" y1="405.3" x2="239.89" y2="407.6" class="tk"/>
<text x="239.89" y="413.4" class="tl" text-anchor="middle">19</text>
<line x1="29.25" y1="394.60" x2="31.45" y2="394.60" class="tk"/>
<text x="27.85" y="396.7" class="tl" text-anchor="end">13</text>
<line x1="29.25" y1="370.10" x2="31.45" y2="370.10" class="tk"/>
<text x="27.85" y="372.2" class="tl" text-anchor="end">14</text>
<line x1="29.25" y1="345.50" x2="31.45" y2="345.50" class="tk"/>
<text x="27.85" y="347.6" class="tl" text-anchor="end">15</text>
<line x1="29.25" y1="320.90" x2="31.45" y2="320.90" class="tk"/>
<text x="27.85" y="323.0" class="tl" text-anchor="end">16</text>
<line x1="29.25" y1="296.40" x2="31.45" y2="296.40" class="tk"/>
<text x="27.85" y="298.5" class="tl" text-anchor="end">17</text>
<line x1="29.25" y1="271.80" x2="31.45" y2="271.80" class="tk"/>
<text x="27.85" y="273.9" class="tl" text-anchor="end">18</text>
<line x1="29.25" y1="247.20" x2="31.45" y2="247.20" class="tk"/>
<text x="27.85" y="249.3" class="tl" text-anchor="end">19</text>
<text x="97.8" y="229.2" class="ti" textLength="103.4" lengthAdjust="spacingAndGlyphs">Predicted vs. Target HHV</text>
<text x="110.6" y="423.2" class="al" textLength="66.4" lengthAdjust="spacingAndGlyphs">Target HHV (MJ kg</text>
<text x="178.5" y="420.6" class="sup" textLength="6.0" lengthAdjust="spacingAndGlyphs">−1</text>
<text x="185.8" y="423.2" class="al">)</text>
<g transform="translate(17.2,364.2) rotate(-90)"><text x="0" y="0" class="al yl" textLength="78.5" lengthAdjust="spacingAndGlyphs">Predicted HHV (MJ kg</text><text x="78.9" y="-3.4" class="sup" textLength="6.1" lengthAdjust="spacingAndGlyphs">−1</text><text x="86.4" y="0" class="al yl">)</text></g>
<text x="246.20000000000002" y="400.8" class="pl" textLength="12.6" lengthAdjust="spacingAndGlyphs">c)</text>
<line x1="309.30" y1="232.7" x2="309.30" y2="405.3" class="gr"/>
<line x1="338.37" y1="232.7" x2="338.37" y2="405.3" class="gr"/>
<line x1="367.44" y1="232.7" x2="367.44" y2="405.3" class="gr"/>
<line x1="396.51" y1="232.7" x2="396.51" y2="405.3" class="gr"/>
<line x1="425.58" y1="232.7" x2="425.58" y2="405.3" class="gr"/>
<line x1="454.65" y1="232.7" x2="454.65" y2="405.3" class="gr"/>
<line x1="483.72" y1="232.7" x2="483.72" y2="405.3" class="gr"/>
<line x1="512.79" y1="232.7" x2="512.79" y2="405.3" class="gr"/>
<line x1="304.75" y1="389.60" x2="540.8" y2="389.60" class="gr"/>
<line x1="304.75" y1="366.00" x2="540.8" y2="366.00" class="gr"/>
<line x1="304.75" y1="342.40" x2="540.8" y2="342.40" class="gr"/>
<line x1="304.75" y1="318.90" x2="540.8" y2="318.90" class="gr"/>
<line x1="304.75" y1="295.30" x2="540.8" y2="295.30" class="gr"/>
<line x1="304.75" y1="271.80" x2="540.8" y2="271.80" class="gr"/>
<line x1="304.75" y1="248.30" x2="540.8" y2="248.30" class="gr"/>
<circle cx="335.6" cy="376.0" r="2.35"/>
<circle cx="329.1" cy="379.1" r="2.35"/>
<circle cx="332.1" cy="383.2" r="2.35"/>
<circle cx="326.0" cy="387.1" r="2.35"/>
<circle cx="327.2" cy="387.4" r="2.35"/>
<circle cx="325.5" cy="394.8" r="2.35"/>
<circle cx="354.0" cy="386.3" r="2.35"/>
<circle cx="353.5" cy="392.9" r="2.35"/>
<circle cx="351.8" cy="397.7" r="2.35"/>
<circle cx="390.3" cy="321.5" r="2.35"/>
<circle cx="389.7" cy="336.1" r="2.35"/>
<circle cx="372.6" cy="344.5" r="2.35"/>
<circle cx="376.1" cy="342.8" r="2.35"/>
<circle cx="375.5" cy="359.1" r="2.35"/>
<circle cx="412.0" cy="264.3" r="2.35"/>
<circle cx="449.5" cy="262.3" r="2.35"/>
<circle cx="460.8" cy="265.1" r="2.35"/>
<circle cx="441.4" cy="325.0" r="2.35"/>
<circle cx="440.4" cy="327.5" r="2.35"/>
<circle cx="441.8" cy="328.9" r="2.35"/>
<circle cx="439.5" cy="330.4" r="2.35"/>
<circle cx="455.0" cy="330.0" r="2.35"/>
<circle cx="456.5" cy="332.4" r="2.35"/>
<circle cx="453.0" cy="337.6" r="2.35"/>
<circle cx="455.3" cy="338.2" r="2.35"/>
<circle cx="405.6" cy="326.9" r="2.35"/>
<circle cx="450.4" cy="262.5" r="2.35"/>
<circle cx="460.3" cy="265.3" r="2.35"/>
<circle cx="467.2" cy="263.3" r="2.35"/>
<circle cx="470.7" cy="264.2" r="2.35"/>
<circle cx="473.7" cy="262.5" r="2.35"/>
<circle cx="464.6" cy="267.2" r="2.35"/>
<circle cx="466.8" cy="269.8" r="2.35"/>
<circle cx="469.4" cy="268.5" r="2.35"/>
<circle cx="468.1" cy="271.5" r="2.35"/>
<circle cx="470.2" cy="275.8" r="2.35"/>
<circle cx="473.2" cy="276.7" r="2.35"/>
<circle cx="479.7" cy="263.3" r="2.35"/>
<circle cx="485.3" cy="267.2" r="2.35"/>
<circle cx="484.4" cy="275.0" r="2.35"/>
<circle cx="490.4" cy="275.0" r="2.35"/>
<circle cx="492.2" cy="273.2" r="2.35"/>
<circle cx="490.4" cy="265.5" r="2.35"/>
<circle cx="510.7" cy="259.5" r="2.35"/>
<circle cx="516.7" cy="261.2" r="2.35"/>
<circle cx="515.8" cy="263.3" r="2.35"/>
<circle cx="514.1" cy="265.5" r="2.35"/>
<circle cx="508.1" cy="265.9" r="2.35"/>
<circle cx="507.2" cy="268.1" r="2.35"/>
<circle cx="502.9" cy="269.8" r="2.35"/>
<circle cx="491.3" cy="265.9" r="2.35"/>
<circle cx="491.7" cy="274.1" r="2.35"/>
<circle cx="491.3" cy="276.7" r="2.35"/>
<circle cx="500.3" cy="260.8" r="2.35"/>
<rect x="331.5" y="378.1" width="4.4" height="4.4"/>
<rect x="332.8" y="381.0" width="4.4" height="4.4"/>
<rect x="348.9" y="377.6" width="4.4" height="4.4"/>
<rect x="352.6" y="372.8" width="4.4" height="4.4"/>
<rect x="390.3" y="323.9" width="4.4" height="4.4"/>
<rect x="372.9" y="354.6" width="4.4" height="4.4"/>
<rect x="372.6" y="361.0" width="4.4" height="4.4"/>
<rect x="401.7" y="346.8" width="4.4" height="4.4"/>
<rect x="451.8" y="269.8" width="4.4" height="4.4"/>
<rect x="453.1" y="269.4" width="4.4" height="4.4"/>
<rect x="453.1" y="322.8" width="4.4" height="4.4"/>
<rect x="403.8" y="322.8" width="4.4" height="4.4"/>
<rect x="400.1" y="327.3" width="4.4" height="4.4"/>
<rect x="400.5" y="333.6" width="4.4" height="4.4"/>
<rect x="452.5" y="269.7" width="4.4" height="4.4"/>
<rect x="464.2" y="264.2" width="4.4" height="4.4"/>
<rect x="464.2" y="272.3" width="4.4" height="4.4"/>
<rect x="468.5" y="272.8" width="4.4" height="4.4"/>
<rect x="471.0" y="266.3" width="4.4" height="4.4"/>
<rect x="471.5" y="269.3" width="4.4" height="4.4"/>
<rect x="474.5" y="262.4" width="4.4" height="4.4"/>
<rect x="474.5" y="265.9" width="4.4" height="4.4"/>
<rect x="473.6" y="271.9" width="4.4" height="4.4"/>
<rect x="474.5" y="273.6" width="4.4" height="4.4"/>
<rect x="477.5" y="264.2" width="4.4" height="4.4"/>
<rect x="478.8" y="267.6" width="4.4" height="4.4"/>
<rect x="481.4" y="261.6" width="4.4" height="4.4"/>
<rect x="477.9" y="269.3" width="4.4" height="4.4"/>
<rect x="480.9" y="270.2" width="4.4" height="4.4"/>
<rect x="483.9" y="271.0" width="4.4" height="4.4"/>
<rect x="485.7" y="272.8" width="4.4" height="4.4"/>
<rect x="477.1" y="276.2" width="4.4" height="4.4"/>
<rect x="490.0" y="258.1" width="4.4" height="4.4"/>
<rect x="490.8" y="261.6" width="4.4" height="4.4"/>
<rect x="490.8" y="265.0" width="4.4" height="4.4"/>
<rect x="517.5" y="255.1" width="4.4" height="4.4"/>
<rect x="489.5" y="258.1" width="4.4" height="4.4"/>
<rect x="492.5" y="258.6" width="4.4" height="4.4"/>
<rect x="490.4" y="261.6" width="4.4" height="4.4"/>
<rect x="494.7" y="260.7" width="4.4" height="4.4"/>
<rect x="497.3" y="261.6" width="4.4" height="4.4"/>
<rect x="500.7" y="260.7" width="4.4" height="4.4"/>
<rect x="503.3" y="258.6" width="4.4" height="4.4"/>
<rect x="493.0" y="265.0" width="4.4" height="4.4"/>
<rect x="496.4" y="265.0" width="4.4" height="4.4"/>
<rect x="499.8" y="264.2" width="4.4" height="4.4"/>
<rect x="502.9" y="262.9" width="4.4" height="4.4"/>
<rect x="494.7" y="267.6" width="4.4" height="4.4"/>
<rect x="498.1" y="266.7" width="4.4" height="4.4"/>
<rect x="494.7" y="271.9" width="4.4" height="4.4"/>
<rect x="508.9" y="259.8" width="4.4" height="4.4"/>
<rect x="508.5" y="262.0" width="4.4" height="4.4"/>
<rect x="508.5" y="265.9" width="4.4" height="4.4"/>
<line x1="315.7" y1="391.8" x2="528.9" y2="241.1" class="rg"/>
<line x1="304.75" y1="232.7" x2="304.75" y2="405.85" class="sp"/>
<line x1="304.2" y1="405.3" x2="540.8" y2="405.3" class="sp"/>
<line x1="309.30" y1="405.3" x2="309.30" y2="407.6" class="tk"/>
<text x="309.30" y="413.4" class="tl" text-anchor="middle">12</text>
<line x1="338.37" y1="405.3" x2="338.37" y2="407.6" class="tk"/>
<text x="338.37" y="413.4" class="tl" text-anchor="middle">13</text>
<line x1="367.44" y1="405.3" x2="367.44" y2="407.6" class="tk"/>
<text x="367.44" y="413.4" class="tl" text-anchor="middle">14</text>
<line x1="396.51" y1="405.3" x2="396.51" y2="407.6" class="tk"/>
<text x="396.51" y="413.4" class="tl" text-anchor="middle">15</text>
<line x1="425.58" y1="405.3" x2="425.58" y2="407.6" class="tk"/>
<text x="425.58" y="413.4" class="tl" text-anchor="middle">16</text>
<line x1="454.65" y1="405.3" x2="454.65" y2="407.6" class="tk"/>
<text x="454.65" y="413.4" class="tl" text-anchor="middle">17</text>
<line x1="483.72" y1="405.3" x2="483.72" y2="407.6" class="tk"/>
<text x="483.72" y="413.4" class="tl" text-anchor="middle">18</text>
<line x1="512.79" y1="405.3" x2="512.79" y2="407.6" class="tk"/>
<text x="512.79" y="413.4" class="tl" text-anchor="middle">19</text>
<line x1="302.55" y1="389.60" x2="304.75" y2="389.60" class="tk"/>
<text x="301.15" y="391.7" class="tl" text-anchor="end">13</text>
<line x1="302.55" y1="366.00" x2="304.75" y2="366.00" class="tk"/>
<text x="301.15" y="368.1" class="tl" text-anchor="end">14</text>
<line x1="302.55" y1="342.40" x2="304.75" y2="342.40" class="tk"/>
<text x="301.15" y="344.5" class="tl" text-anchor="end">15</text>
<line x1="302.55" y1="318.90" x2="304.75" y2="318.90" class="tk"/>
<text x="301.15" y="321.0" class="tl" text-anchor="end">16</text>
<line x1="302.55" y1="295.30" x2="304.75" y2="295.30" class="tk"/>
<text x="301.15" y="297.4" class="tl" text-anchor="end">17</text>
<line x1="302.55" y1="271.80" x2="304.75" y2="271.80" class="tk"/>
<text x="301.15" y="273.9" class="tl" text-anchor="end">18</text>
<line x1="302.55" y1="248.30" x2="304.75" y2="248.30" class="tk"/>
<text x="301.15" y="250.4" class="tl" text-anchor="end">19</text>
<text x="371.0" y="229.2" class="ti" textLength="103.4" lengthAdjust="spacingAndGlyphs">Predicted vs. Target HHV</text>
<text x="383.7" y="423.2" class="al" textLength="66.4" lengthAdjust="spacingAndGlyphs">Target HHV (MJ kg</text>
<text x="451.6" y="420.6" class="sup" textLength="6.0" lengthAdjust="spacingAndGlyphs">−1</text>
<text x="458.9" y="423.2" class="al">)</text>
<g transform="translate(290.5,364.3) rotate(-90)"><text x="0" y="0" class="al yl" textLength="78.5" lengthAdjust="spacingAndGlyphs">Predicted HHV (MJ kg</text><text x="78.9" y="-3.4" class="sup" textLength="6.1" lengthAdjust="spacingAndGlyphs">−1</text><text x="86.4" y="0" class="al yl">)</text></g>
<text x="524.4" y="398.2" class="pl" textLength="15.0" lengthAdjust="spacingAndGlyphs">d)</text>

<circle cx="450.3" cy="436.2" r="2.4" fill="#1f77b4"/>
<text x="458.7" y="438.7" class="lg" textLength="38.1" lengthAdjust="spacingAndGlyphs">Training data</text>
<rect x="448.7" y="444.5" width="4" height="4" fill="#ff7f0e"/>
<text x="458.7" y="448.6" class="lg" textLength="35.9" lengthAdjust="spacingAndGlyphs">Testing data</text>
<line x1="443.7" y1="456" x2="454" y2="456" stroke="#666" stroke-width="1.3" stroke-dasharray="3.7,2.1"/>
<text x="458.7" y="458.1" class="lg" textLength="44.4" lengthAdjust="spacingAndGlyphs">Regression line</text>

</svg>
</body></html>
